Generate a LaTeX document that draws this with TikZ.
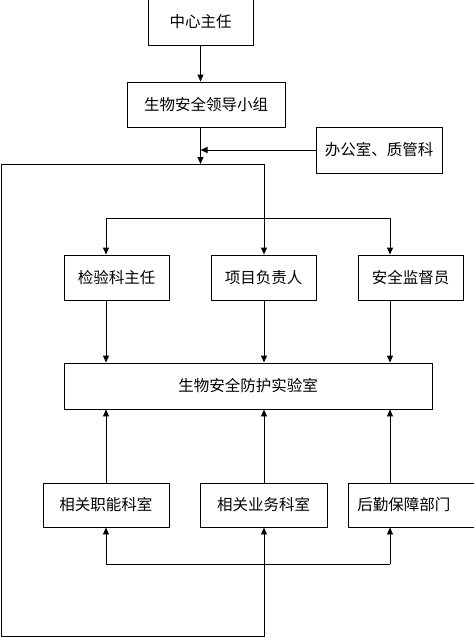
\documentclass[tikz,border=0pt]{standalone}
\usepackage{fontspec}
\setmainfont{Noto Sans CJK SC}
\usetikzlibrary{arrows.meta,positioning}

\begin{document}
\begin{tikzpicture}
	[x=1pt,y=-1pt,line width=0.9pt,>={Triangle[length=7pt,width=6pt]},
	box/.style={shape=rectangle,draw,fill=white,inner sep=0pt,minimum height=45pt,font=\fontsize{15.5}{18}\selectfont}]
	\useasboundingbox (0,0) rectangle (474,638);
	\node [box,minimum width=105pt,minimum height=46pt] (1) at (200.5,22) {中心主任};
	\node [box,minimum width=158pt] (2) at (206,104.5) {生物安全领导小组};
	\node [box,minimum width=126pt,minimum height=46pt] (3) at (379,150) {办公室、质管科};
	
	\node [box,minimum width=105pt] (4) at (116.5,277.5) {检验科主任};
	\node [box,minimum width=105pt] (5) at (263.5,277.5) {项目负责人};
	\node [box,minimum width=105pt] (6) at (410.5,277.5) {安全监督员};
	
	\node [box,minimum width=368pt,minimum height=46pt] (7) at (248,386) {生物安全防护实验室};
	
	\node [box,minimum width=126pt,minimum height=44pt] (8) at (106,505) {相关职能科室};
	\node [box,minimum width=127pt,minimum height=44pt] (9) at (263.5,505) {相关业务科室};
	\node [box,anchor=west,minimum height=44pt,text width=114pt,align=left,inner xsep=9pt] (10) at (348,505) {后勤保障部门};
	
	\coordinate (a) at (200.5,164);
	\coordinate (l) at (1.5,164);
	\coordinate (r) at (264,164);
	\coordinate (b1) at (106,218);
	\coordinate (b3) at (390,218);
	\coordinate (d1) at (106,564);
	\coordinate (d2) at (264,564);
	\coordinate (d3) at (390,564);
	\coordinate (e) at (1.5,636.5);
	
	\draw[->] (1.south) -- (2.north -| 1.south);
	\draw[->] (2.south -| 1.south) -- (a);
	\draw[->] (3.west) -- (3.west -| a);
	\draw[->] (l) -- (r) -- (5.north -| r);
	
	\draw (b1) -- (b3);
	\draw[->] (b1) -- (4.north -| b1);
	\draw[->] (b3) -- (6.north -| b3);
	
	\draw[->] (4.south -| b1) -- (7.north -| b1);
	\draw[->] (5.south -| r) -- (7.north -| r);
	\draw[->] (6.south -| b3) -- (7.north -| b3);
	
	\draw[->] (8.north -| d1) -- (7.south -| d1);
	\draw[->] (9.north -| d2) -- (7.south -| d2);
	\draw[->] (10.north -| d3) -- (7.south -| d3);
	
	\draw (d1) -- (d3);
	\draw[->] (d1) -- (8.south -| d1);
	\draw[->] (d2) -- (9.south -| d2);
	\draw[->] (d3) -- (10.south -| d3);
	\draw (d2) -- (d2 |- e) -- (e) -- (l);
	
\end{tikzpicture}
\end{document}
